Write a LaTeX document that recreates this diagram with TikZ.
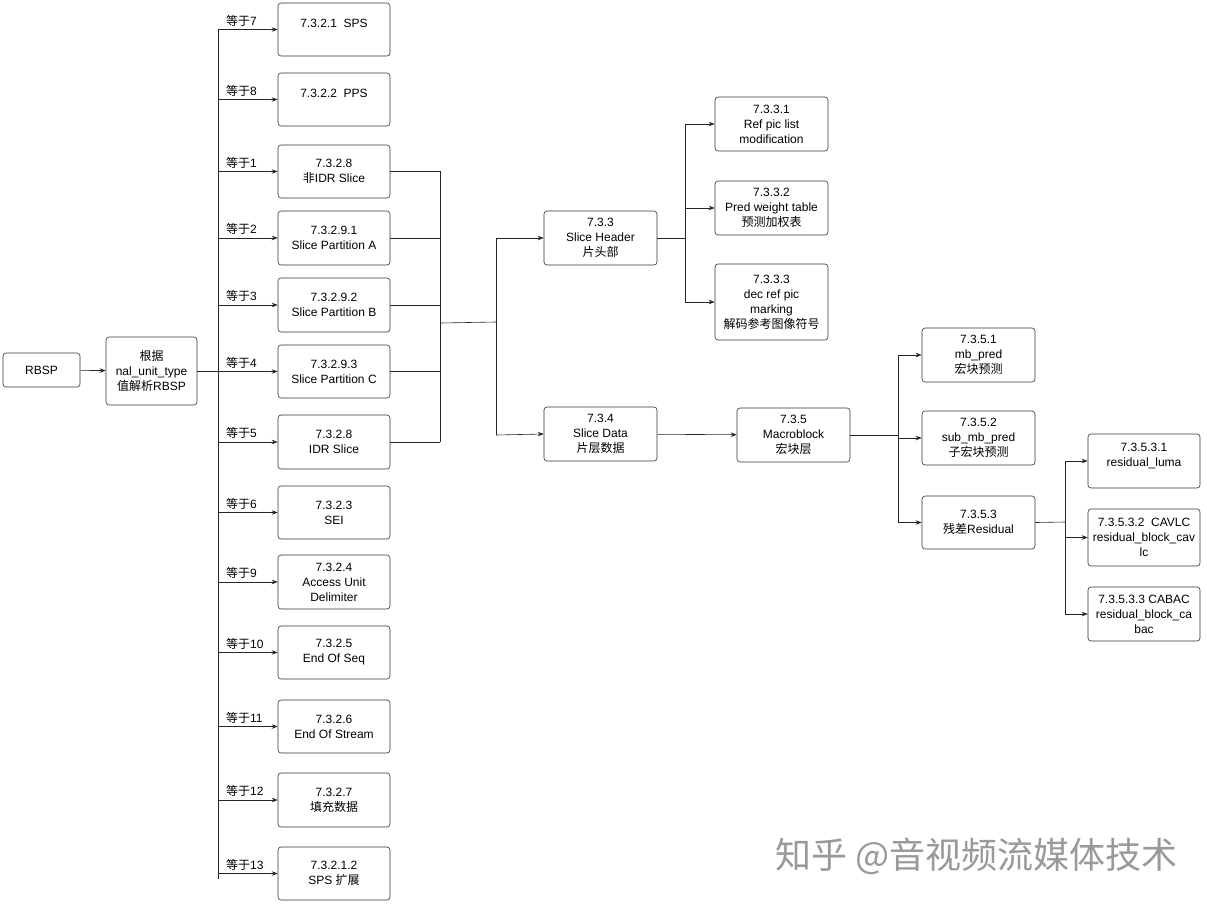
\documentclass[tikz,border=0pt]{standalone}
\usepackage{fontspec}
\setmainfont{Liberation Sans}
\newfontfamily\cjk{Noto Sans CJK SC}
\newcommand\zh[1]{{\cjk #1}}
\usetikzlibrary{arrows.meta}
\begin{document}
\begin{tikzpicture}[x=1pt,y=-1pt,
 bx/.style={draw=black!80,rounded corners=3pt,line width=0.6pt,align=center,inner sep=0pt,font=\fontsize{12}{15}\selectfont},
 ln/.style={line width=0.6pt,black!85},
 ar/.style={ln,-{Stealth[length=6pt,width=4.5pt]}},
 lb/.style={font=\fontsize{12}{13}\selectfont,anchor=south west,inner sep=1pt}]
\useasboundingbox (0,0) rectangle (1207,903);
\fill[white] (0,0) rectangle (1207,903);
\newcommand\bb[6]{\node[bx,minimum width=#4-#2,minimum height=#5-#3] (#1) at ({(#2+#4)/2},{(#3+#5)/2}) {#6};}
\bb{rbsp}{3}{353}{80}{387}{RBSP}
\bb{gj}{106}{337}{197}{405}{\zh{根据}\\nal\_unit\_type\\\zh{值解析}RBSP}
\draw[ar] (rbsp) -- (gj);
\draw[ln] (gj.east) -- (218,371);
\draw[ln] (218,30) -- (218,879);
\bb{b7}{278}{3}{390}{56}{7.3.2.1~ SPS\\[-2pt]}
\bb{b8}{278}{73}{390}{126}{7.3.2.2~ PPS\\[-2pt]}
\bb{b1}{278}{145}{390}{198}{7.3.2.8\\\zh{非}IDR Slice}
\bb{b2}{278}{211}{390}{265}{7.3.2.9.1\\Slice Partition A}
\bb{b3}{278}{278}{390}{332}{7.3.2.9.2\\Slice Partition B}
\bb{b4}{278}{345}{390}{398}{7.3.2.9.3\\Slice Partition C}
\bb{b5}{278}{415}{390}{469}{7.3.2.8\\IDR Slice}
\bb{b6}{278}{486}{390}{539}{7.3.2.3\\SEI}
\bb{b9}{278}{555}{390}{609}{7.3.2.4\\Access Unit\\Delimiter}
\bb{b10}{278}{626}{390}{679}{7.3.2.5\\End Of Seq}
\bb{b11}{278}{700}{390}{753}{7.3.2.6\\End Of Stream}
\bb{b12}{278}{773}{390}{827}{7.3.2.7\\\zh{填充数据}}
\bb{b13}{278}{847}{390}{900}{7.3.2.1.2\\SPS \zh{扩展}}
\foreach \n/\t in {b7/7,b8/8,b1/1,b2/2,b3/3,b4/4,b5/5,b6/6,b9/9,b10/10,b11/11,b12/12,b13/13}{
 \coordinate (s\n) at (218,0 |- \n.west);
 \draw[ar] (s\n) -- (\n.west);
 \node[lb] at ([xshift=7pt,yshift=2pt]s\n) {\zh{等于}\t};}
\foreach \n in {b1,b2,b3,b4,b5}{\draw[ln] (\n.east) -- (\n.east -| 440,0);}
\draw[ln] (440,171) -- (440,442);
\coordinate (j1) at (440,323);
\coordinate (j2) at (496,322);
\draw[ln] (j1) -- (j2);
\bb{sh}{544}{211}{657}{265}{7.3.3\\Slice Header\\\zh{片头部}}
\bb{sd}{544}{407}{657}{461}{7.3.4\\Slice Data\\\zh{片层数据}}
\draw[ln] (496,238) -- (496,435);
\draw[ar] (496,238) -- (sh.west);
\draw[ar] (496,435) -- (sd.west);
\bb{h1}{715}{97}{828}{151}{7.3.3.1\\Ref pic list\\modification}
\bb{h2}{715}{181}{828}{235}{7.3.3.2\\Pred weight table\\\zh{预测加权表}}
\bb{h3}{715}{264}{828}{340}{7.3.3.3\\dec ref pic\\marking\\\zh{解码参考图像符号}}
\draw[ln] (sh.east) -- (685,238);
\draw[ln] (685,124) -- (685,302);
\foreach \n in {h1,h2,h3}{\draw[ar] (\n.west -| 685,0) -- (\n.west);}
\bb{mb}{737}{408}{850}{462}{7.3.5\\Macroblock\\\zh{宏块层}}
\draw[ar] (sd) -- (mb);
\bb{m1}{922}{328}{1035}{382}{7.3.5.1\\mb\_pred\\\zh{宏块预测}}
\bb{m2}{922}{411}{1035}{465}{7.3.5.2\\sub\_mb\_pred\\\zh{子宏块预测}}
\bb{m3}{922}{496}{1035}{549}{7.3.5.3\\\zh{残差}Residual}
\draw[ln] (mb.east) -- (898,435);
\draw[ln] (898,355) -- (898,523);
\foreach \n in {m1,m2,m3}{\draw[ar] (\n.west -| 898,0) -- (\n.west);}
\bb{r1}{1088}{434}{1200}{488}{7.3.5.3.1\\residual\_luma\\[-2pt]}
\bb{r2}{1088}{509}{1200}{566}{7.3.5.3.2~ CAVLC\\residual\_block\_cav\\lc}
\bb{r3}{1088}{587}{1200}{641}{7.3.5.3.3 CABAC\\residual\_block\_ca\\bac}
\draw[ln] (m3.east) -- (1065,522);
\draw[ln] (1065,462) -- (1065,614);
\foreach \n in {r1,r2,r3}{\draw[ar] (\n.west -| 1065,0) -- (\n.west);}
\node[font=\cjk\fontsize{36}{38}\selectfont,text=black!40,anchor=west,inner sep=0pt] (wm) at (775,856) {知乎 @音视频流媒体技术};
\end{tikzpicture}
\end{document}
